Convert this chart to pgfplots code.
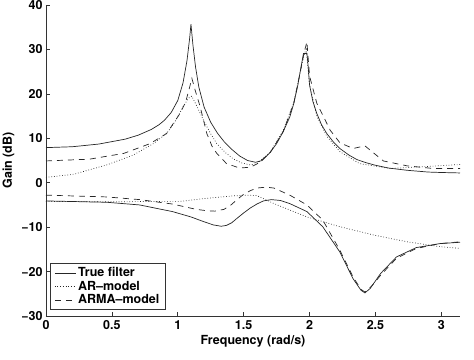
\documentclass[border=0pt]{standalone}
\usepackage{fontspec}
\setmainfont{TeX Gyre Heros}
\usepackage{pgfplots}
\pgfplotsset{compat=1.18}
\begin{document}
\begin{tikzpicture}
\begin{axis}[
  at={(0,0)}, anchor=south west,
  scale only axis, width=414bp, height=311bp,
  xmin=0, xmax=3.1416, ymin=-30, ymax=40,
  axis x line*=bottom, axis y line*=left,
  axis line style={line width=0.6bp, black!80, -},
  tick style={line width=0.6bp, black!80},
  tick align=inside, major tick length=4bp,
  xtick={0,0.5,1,1.5,2,2.5,3},
  xticklabels={0,0.5,1,1.5,2,2.5,3},
  ytick={-30,-20,-10,0,10,20,30,40},
  yticklabels={−30,−20,−10,0,10,20,30,40},
  ticklabel style={font=\fontsize{12.5bp}{14bp}\selectfont\bfseries},
  xticklabel style={yshift=-1bp},
  xlabel={Frequency (rad/s)}, ylabel={Gain (dB)},
  label style={font=\fontsize{12.5bp}{14bp}\selectfont\bfseries},
  xlabel style={yshift=1bp},
  legend style={at={(0.01,0.02)}, anchor=south west, draw=black!80, line width=0.6bp,
    font=\fontsize{12.5bp}{15bp}\selectfont\bfseries, row sep=-1bp, inner xsep=4bp, inner ysep=2bp},
  legend cell align=left,
  legend image code/.code={\draw[#1] (0bp,0bp) -- (21bp,0bp);},
  every axis plot/.append style={line width=0.7bp, black!85},
]
% True filter upper
\addplot[solid] coordinates {(0,7.9) (0.2,8.1) (0.4,8.7) (0.6,9.8) (0.7,10.7) (0.8,12.0) (0.86,13.1) (0.9,14.1) (0.95,15.8) (1.0,18.5) (1.04,22.5) (1.07,27.5) (1.09,32.5) (1.10,35.7) (1.115,31) (1.135,26) (1.16,21.5) (1.2,17) (1.25,13.6) (1.3,11.2) (1.35,9.3) (1.41,7.5) (1.47,6.0) (1.53,5.0) (1.59,4.6) (1.64,5.0) (1.70,6.8) (1.75,8.8) (1.80,11.5) (1.85,14.8) (1.88,17.8) (1.91,21.8) (1.93,25.2) (1.954,29.1) (1.98,29.1) (1.99,26) (2.0,22) (2.025,18.3) (2.055,15.6) (2.09,13.1) (2.13,11.1) (2.18,9.2) (2.23,7.7) (2.30,6.2) (2.36,5.2) (2.43,4.5) (2.49,4.0) (2.6,3.3) (2.74,2.8) (2.9,2.4) (3.0,2.3) (3.1416,2.2)};
\addlegendentry{True filter}
% AR upper
\addplot[dotted] coordinates {(0,1.2) (0.21,1.9) (0.46,4.0) (0.66,6.2) (0.815,8.8) (0.916,11.1) (0.98,13.8) (1.04,17.1) (1.08,19) (1.106,19.5) (1.14,17.5) (1.195,14.1) (1.25,11) (1.296,8.8) (1.36,6.8) (1.42,5.4) (1.48,4.5) (1.55,4.0) (1.6,4.3) (1.7,6.8) (1.8,11.8) (1.88,18) (1.93,25) (1.96,29) (1.975,30) (2.0,22) (2.055,15) (2.13,10.5) (2.23,7) (2.38,4.3) (2.61,3.2) (2.86,3.6) (3.1416,4.1)};
\addlegendentry{AR–model}
% ARMA upper
\addplot[dash pattern=on 6bp off 5bp] coordinates {(0,4.9) (0.33,5.3) (0.59,6.6) (0.79,8.8) (0.916,11.1) (1.017,15.6) (1.06,18.2) (1.09,21.5) (1.107,23.5) (1.13,21) (1.17,17.1) (1.22,11.1) (1.26,8.2) (1.296,6.6) (1.37,4.3) (1.47,3.3) (1.55,3.5) (1.6,4.2) (1.7,6.7) (1.8,11.5) (1.88,17.9) (1.93,25) (1.96,29.5) (1.98,31.7) (2.0,24) (2.055,17.9) (2.157,11.8) (2.23,9.0) (2.33,7.7) (2.42,8.3) (2.49,6.6) (2.56,4.9) (2.74,3.8) (2.94,3.2) (3.1416,3.2)};
\addlegendentry{ARMA–model}
% True lower
\addplot[solid, forget plot] coordinates {(0,-4.1) (0.46,-4.4) (0.71,-5.0) (0.96,-6.5) (1.1,-7.7) (1.2,-8.8) (1.27,-9.5) (1.33,-9.8) (1.37,-9.6) (1.41,-9.0) (1.45,-8.0) (1.50,-6.8) (1.55,-5.7) (1.60,-4.8) (1.65,-4.1) (1.71,-3.8) (1.78,-4.0) (1.85,-4.7) (1.98,-6.5) (2.1,-9.9) (2.23,-15.6) (2.33,-21.6) (2.39,-24.2) (2.42,-24.8) (2.46,-23.8) (2.54,-20.4) (2.66,-16.7) (2.81,-14.6) (2.99,-13.7) (3.1416,-13.4)};
% AR lower
\addplot[dotted, forget plot] coordinates {(0,-4.2) (0.5,-4.3) (0.9,-4.2) (1.02,-4.2) (1.22,-3.5) (1.4,-3.0) (1.52,-2.8) (1.6,-2.9) (1.73,-4.7) (1.98,-7.7) (2.23,-9.9) (2.49,-11.8) (2.74,-13.3) (2.99,-14.4) (3.1416,-14.8)};
% ARMA lower
\addplot[dash pattern=on 6bp off 5bp, forget plot] coordinates {(0,-2.8) (0.46,-3.2) (0.71,-3.8) (0.96,-4.8) (1.14,-6.0) (1.22,-6.3) (1.28,-6.4) (1.35,-6.0) (1.40,-5.1) (1.45,-3.8) (1.5,-2.6) (1.55,-1.8) (1.6,-1.2) (1.67,-1.0) (1.73,-1.2) (1.85,-2.8) (1.98,-5.0) (2.1,-8.4) (2.23,-15.2) (2.33,-21.2) (2.39,-24.0) (2.42,-24.6) (2.47,-23.3) (2.54,-20.8) (2.66,-17) (2.81,-14.8) (2.99,-13.7) (3.1416,-13.3)};
\end{axis}
\pgfresetboundingbox
\path[use as bounding box] (-46bp,-44bp) rectangle (428bp,316bp);
\end{tikzpicture}
\end{document}
